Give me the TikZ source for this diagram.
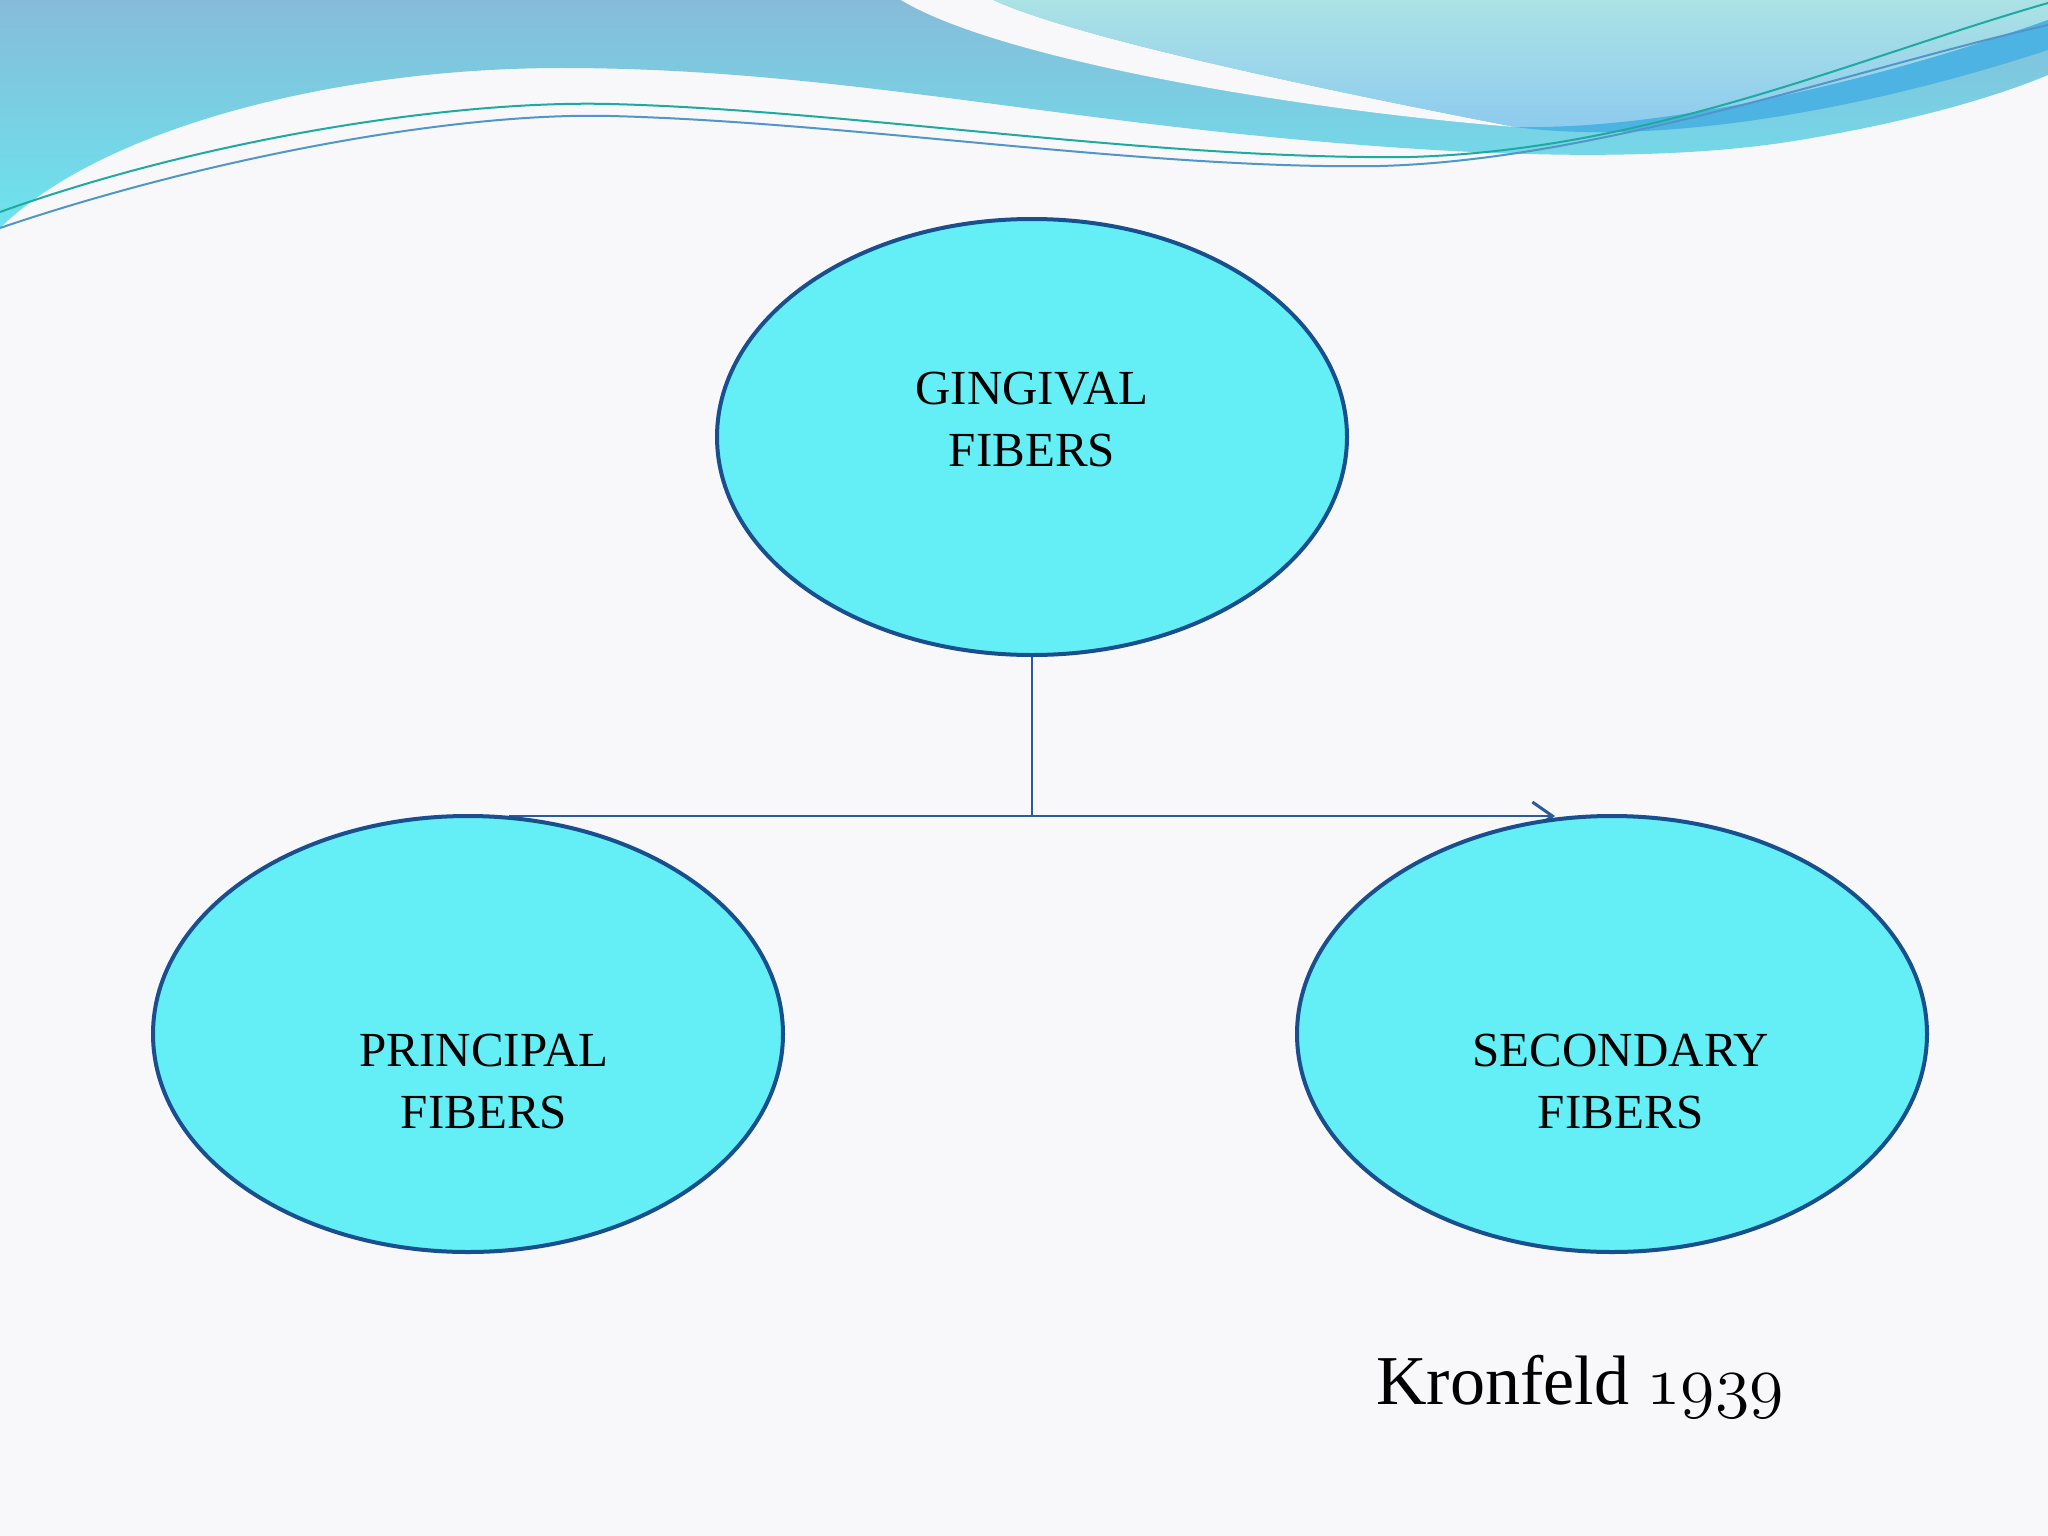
\RequirePackage{fix-cm}
\documentclass[tikz,border=0pt]{standalone}
\usepackage{fontspec}
\setmainfont{Liberation Serif}
\usetikzlibrary{shapes.geometric,arrows.meta}
\definecolor{bg}{RGB}{248,248,250}
\definecolor{ellfill}{RGB}{100,239,246}
\definecolor{ellborder}{RGB}{26,79,142}
\definecolor{conn}{RGB}{43,91,154}
\definecolor{bandtop}{RGB}{134,188,217}
\definecolor{bandbot}{RGB}{108,228,238}
\definecolor{lighttop}{RGB}{171,226,229}
\definecolor{lightbot}{RGB}{141,203,238}
\definecolor{darkband}{RGB}{77,179,226}
\definecolor{lineA}{RGB}{30,170,160}
\definecolor{lineB}{RGB}{80,150,200}
\newcommand{\osnum}[1]{{\fontencoding{OML}\fontfamily{cmm}\fontseries{m}\fontshape{it}\selectfont #1}}
\tikzset{
  fiber/.style={ellipse, draw=ellborder, line width=4pt, fill=ellfill,
    minimum width=630pt, minimum height=436pt, inner sep=0pt},
  lbl/.style={align=center, font=\fontsize{49}{62}\selectfont, text=black},
  link/.style={draw=conn, line width=2.6pt},
  thin/.style={line width=2pt}
}
\begin{document}
\begin{tikzpicture}[x=1pt,y=-1pt]
\useasboundingbox (0,0) rectangle (2048,1536);
\fill[bg] (0,0) rectangle (2048,1536);
% banner: main band
\shade[top color=bandtop, bottom color=bandbot]
  (0,0) -- (2048,0) -- (2048,75)
  .. controls (2000,95) and (1920,120) .. (1800,140)
  .. controls (1650,165) and (1450,155) .. (1250,135)
  .. controls (1000,110) and (800,68) .. (562,68)
  .. controls (330,68) and (100,130) .. (0,228) -- cycle;
% white stripe
\fill[bg] (901,0) .. controls (1000,60) and (1300,110) .. (1515,127)
  .. controls (1350,95) and (1080,40) .. (993,0) -- cycle;
% light top-right region
\shade[top color=lighttop, bottom color=lightbot]
  (993,0) -- (2048,0) -- (2048,20)
  .. controls (1850,90) and (1650,130) .. (1515,127)
  .. controls (1350,95) and (1080,40) .. (993,0) -- cycle;
% dark band
\fill[darkband] (1515,127) .. controls (1650,130) and (1850,90) .. (2048,20)
  -- (2048,50) .. controls (1850,115) and (1650,145) .. (1515,127) -- cycle;
% thin lines
\draw[thin, lineA] (0,212) .. controls (200,140) and (450,100) .. (610,104)
  .. controls (850,110) and (1150,160) .. (1410,157)
  .. controls (1650,150) and (1850,60) .. (2048,3);
\draw[thin, lineB] (0,228) .. controls (200,160) and (450,112) .. (610,116)
  .. controls (850,122) and (1150,170) .. (1380,166)
  .. controls (1600,160) and (1850,70) .. (2048,25);
% connectors
\coordinate (hl) at (509,816);
\coordinate (hr) at (1555,816);
\coordinate (jn) at (1032,816);
\node[fiber] (top) at (1032,437) {};
\draw[link] (top.south) -- (jn);
\draw[link, -{Straight Barb[length=20pt,width=28pt,line width=3pt]}] (hl) -- (hr);
% ellipses
\node[fiber] (left) at (468,1034) {};
\node[fiber] (right) at (1612,1034) {};
% labels
\node[lbl] (ttop) at (1032,420) {GINGIVAL\\FIBERS};
\node[lbl] (tleft) at (484,1082) {PRINCIPAL\\FIBERS};
\node[lbl] (tright) at (1621,1082) {SECONDARY\\FIBERS};
\node[font=\fontsize{70}{80}\selectfont] (cite) at (1580,1387) {Kronfeld \osnum{1939}};
\end{tikzpicture}
\end{document}
